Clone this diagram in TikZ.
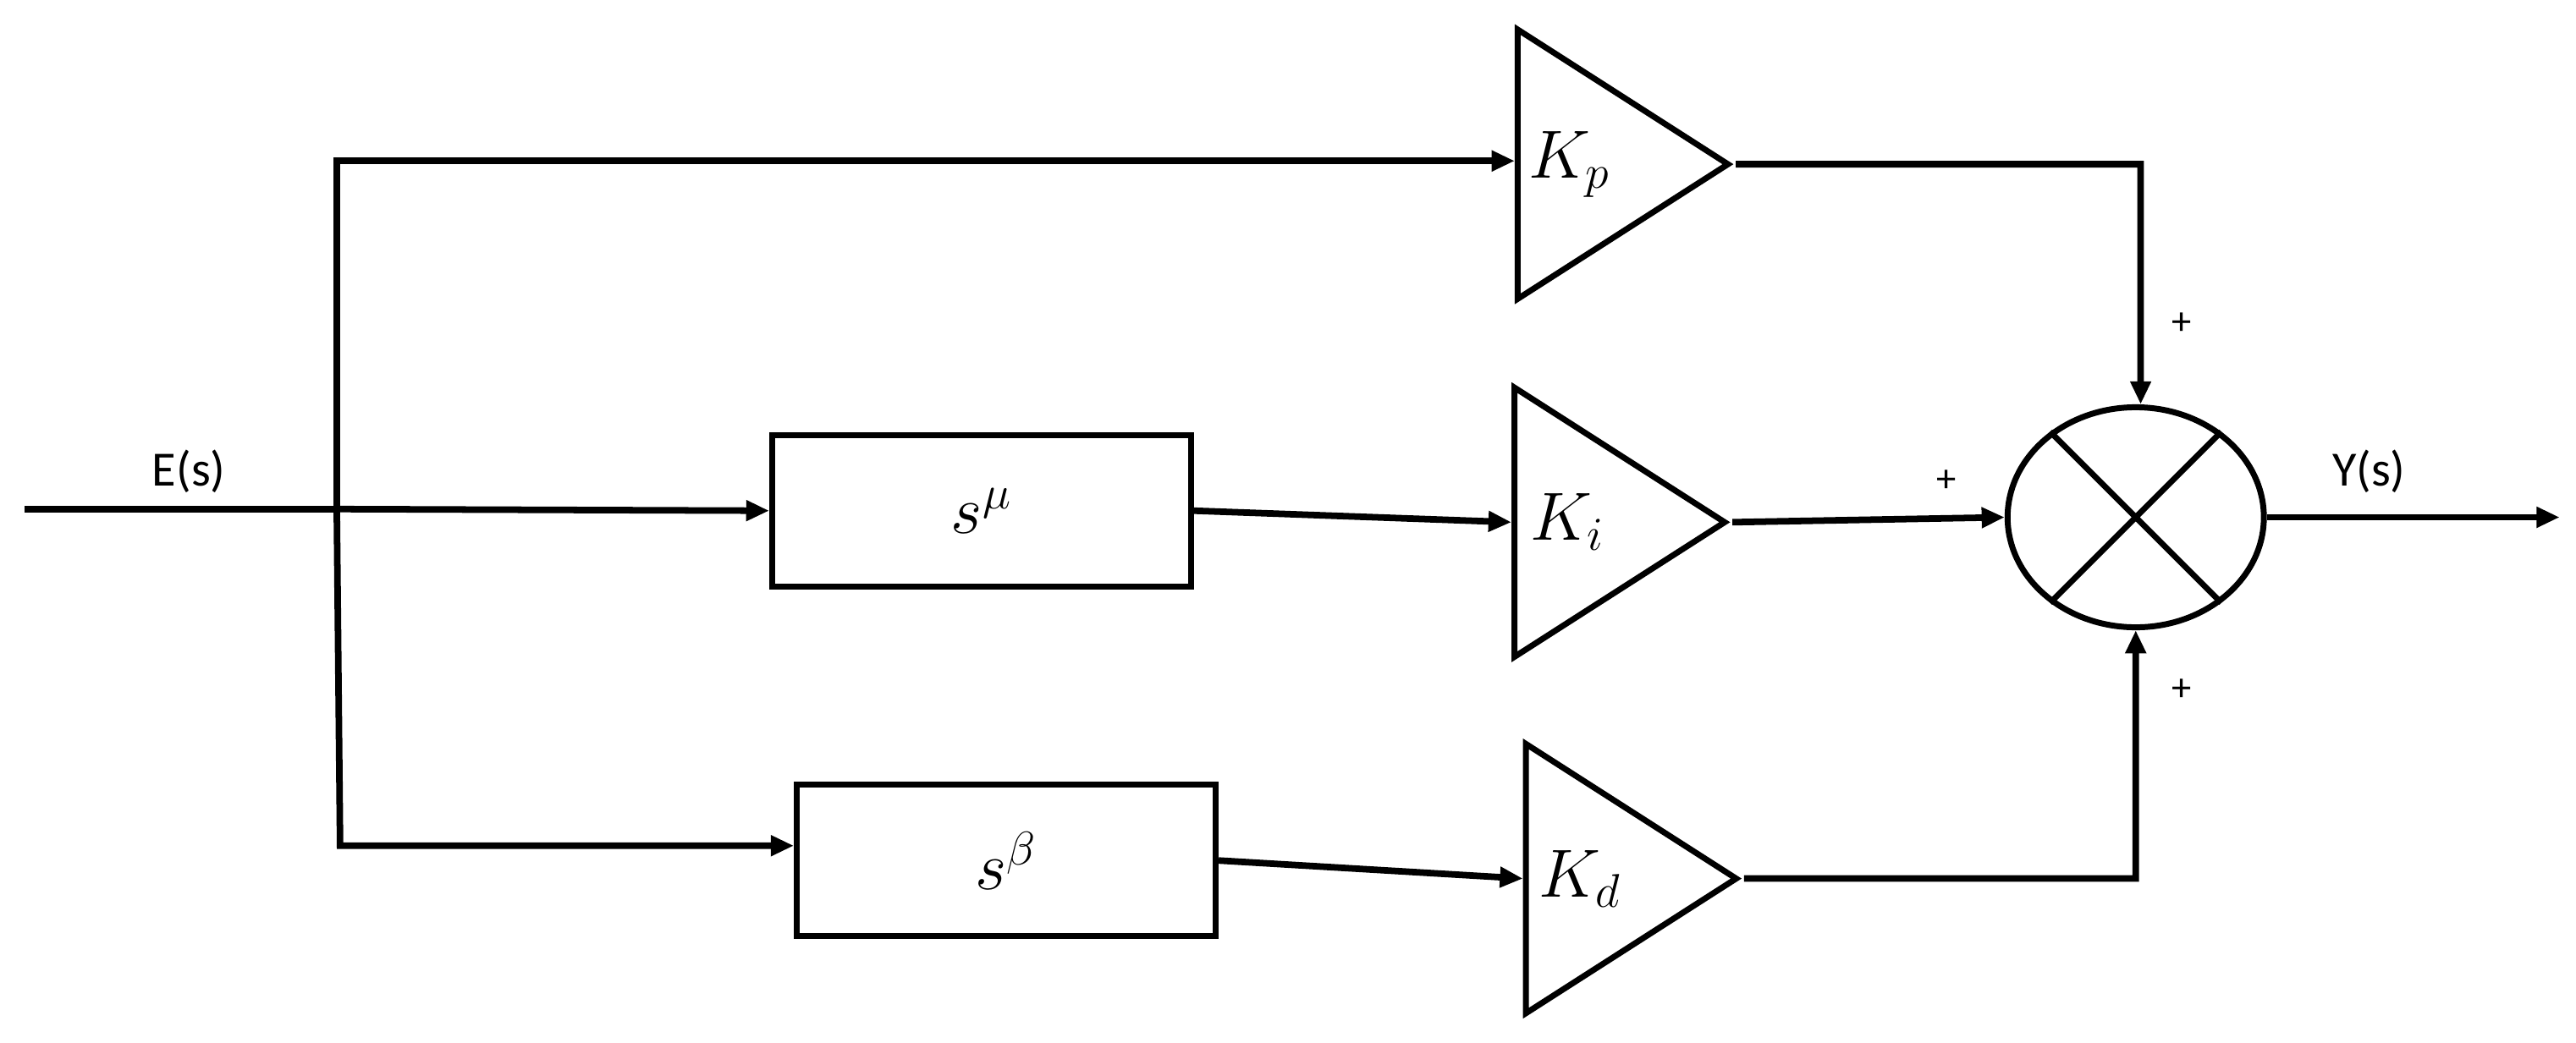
\documentclass[tikz,border=0pt]{standalone}
\usepackage{fontspec}
\newfontfamily\lblfont{Carlito}
\usetikzlibrary{shapes.geometric,arrows.meta}
\begin{document}
\begin{tikzpicture}[x=0.5pt,y=-0.5pt,
  wire/.style={line width=2pt,-{Triangle[length=7pt,width=6pt]}},
  line/.style={line width=2pt},
  gain/.style={isosceles triangle,draw,line width=1.8pt,inner sep=0pt,isosceles triangle stretches,minimum width=82pt,minimum height=64pt,anchor=west,font=\fontsize{21}{25}\selectfont},
  blk/.style={draw,line width=1.8pt,minimum width=127.5pt,minimum height=46pt,inner sep=0pt,font=\fontsize{21}{25}\selectfont},
  lbl/.style={font=\lblfont\fontsize{15}{18}\selectfont},
  pl/.style={font=\lblfont\fontsize{12}{14}\selectfont}]
\useasboundingbox (0,0) rectangle (1568,635);
\node[gain] (kp) at (922,100) {$K_p$\hspace*{14pt}};
\node[gain] (ki) at (920,318) {$K_i$\hspace*{14pt}};
\node[gain] (kd) at (927,535) {$K_d$\hspace*{14pt}};
\node[blk] (bm) at (597.5,311) {$s^{\mu}$};
\node[blk] (bb) at (612.5,524) {$s^{\beta}$};
\node[ellipse,draw,line width=1.8pt,minimum width=78pt,minimum height=67pt,inner sep=0pt] (sum) at (1300,315) {};
\draw[line width=1.8pt] (sum.45) -- (sum.225) (sum.135) -- (sum.315);
\coordinate (in) at (15,310);
\coordinate (sp) at (205,310);
\coordinate (out) at (1558,315);
\draw[line] (in) -- (sp);
\draw[wire] (sp) -- (bm.west);
\draw[wire] (sp) -- (205,98) -- (kp.west |- 0,98);
\draw[wire] (sp) -- (207,515) -- (bb.west |- 0,515);
\draw[wire] (bm.east) -- (ki.west);
\draw[wire] (bb.east) -- (kd.west);
\draw[wire] (kp.apex) -- (1303,100) -- (sum.north -| 1303,0);
\draw[wire] (ki.apex) -- (sum.west);
\draw[wire] (kd.apex) -- (1300,535) -- (sum.south);
\draw[wire] (sum.east) -- (out);
\node[lbl] (es) at (115,287) {E(s)};
\node[lbl] (ys) at (1442,287) {Y(s)};
\node[pl] (p1) at (1328,197) {+};
\node[pl] (p2) at (1185,293) {+};
\node[pl] (p3) at (1328,420) {+};
\end{tikzpicture}
\end{document}
